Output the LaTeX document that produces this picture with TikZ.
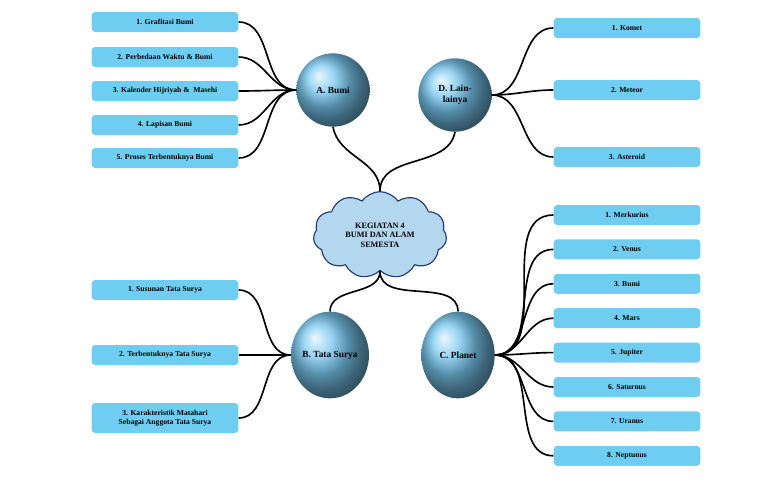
\documentclass[tikz,border=0pt]{standalone}
\usepackage{fontspec}
\setmainfont{Liberation Serif}
\usetikzlibrary{shapes.symbols,shapes.geometric,positioning}
\definecolor{skyblue}{RGB}{110,205,240}
\definecolor{ballblue}{RGB}{120,200,240}
\definecolor{splash}{RGB}{180,215,240}
\definecolor{splashline}{RGB}{40,60,120}
\begin{document}
\begin{tikzpicture}[x=0.03cm,y=-0.03cm,
    drop/.style={fill=skyblue,rounded corners=3pt,minimum width=4.4cm,minimum height=0.6cm,
        font=\fontsize{6.5}{7.5}\selectfont\bfseries,align=center,inner sep=1pt},
    ball/.style={circle,shading=ball,ball color=ballblue,minimum size=2.2cm,
        font=\fontsize{8}{9}\selectfont\bfseries,align=center,inner sep=0pt},
    link/.style={line width=1.4pt,black}]

    \useasboundingbox (0,0) rectangle (768,501);

    \node[cloud,cloud puffs=11,cloud puff arc=110,aspect=1.6,fill=splash,draw=splashline,line width=1pt,
        minimum width=4cm,minimum height=2.6cm,align=center,font=\fontsize{7}{8}\selectfont\bfseries]
        (main) at (380,235) {KEGIATAN 4\\BUMI DAN ALAM\\SEMESTA};

    \node[ball] (bumi) at (333,90) {A. Bumi};
    \node[ball] (lain) at (455,95) {D. Lain-\\lainya};
    \node[ball,ellipse,minimum width=2.2cm,minimum height=2.6cm] (tata) at (330,355) {B. Tata Surya};
    \node[ball,ellipse,minimum width=2.2cm,minimum height=2.6cm] (planet) at (458,355) {C. Planet};

    % cabang A
    \node[drop] (a1) at (165,22) {1. Grafitasi Bumi};
    \node[drop] (a2) at (165,57) {2. Perbedaan Waktu \& Bumi};
    \node[drop] (a3) at (165,91) {3. Kalender Hijriyah \&\ \ Masehi};
    \node[drop] (a4) at (165,125) {4. Lapisan Bumi};
    \node[drop] (a5) at (165,158) {5. Proses Terbentuknya Bumi};

    % cabang D
    \node[drop] (d1) at (627,28) {1. Komet};
    \node[drop] (d2) at (627,90) {2. Meteor};
    \node[drop] (d3) at (627,157) {3. Asteroid};

    % cabang B
    \node[drop] (b1) at (165,290) {1. Susunan Tata Surya};
    \node[drop] (b2) at (165,355) {2. Terbentuknya Tata Surya};
    \node[drop,minimum height=0.9cm] (b3) at (165,418) {3. Karakteristik Matahari\\Sebagai Anggota Tata Surya};

    % cabang C
    \foreach \i/\nama [count=\k] in {1/Merkurius,2/Venus,3/Bumi,4/Mars,5/Jupiter,6/Saturnus,7/Uranus,8/Neptunus}
        \node[drop] (c\k) at (627,215+34.4*\k-34.4) {\i. \nama};

    \foreach \n in {a1,a2,a3,a4,a5}
        \draw[link] (\n.east) to[out=0,in=180] (bumi.west);
    \foreach \n in {d1,d2,d3}
        \draw[link] (lain.east) to[out=0,in=180] (\n.west);
    \foreach \n in {b1,b2,b3}
        \draw[link] (\n.east) to[out=0,in=180] (tata.west);
    \foreach \k in {1,...,8}
        \draw[link] (planet.east) to[out=0,in=180] (c\k.west);

    \draw[link] (main.north) to[out=90,in=-80] (bumi.south);
    \draw[link] (main.north) to[out=90,in=-100] (lain.south);
    \draw[link] (main.south) to[out=-90,in=90] (tata.north);
    \draw[link] (main.south) to[out=-90,in=90] (planet.north);
\end{tikzpicture}
\end{document}
